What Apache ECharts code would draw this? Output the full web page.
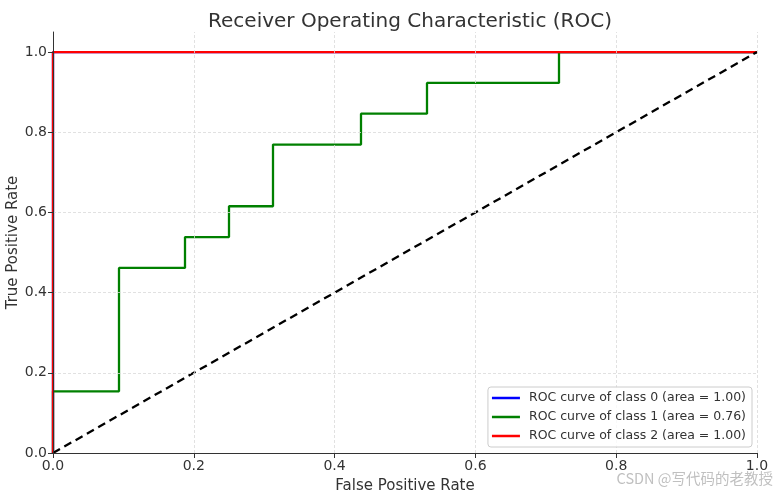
<!DOCTYPE html>
<html>
<head>
<meta charset="utf-8">
<script src="https://cdn.jsdelivr.net/npm/echarts@6/dist/echarts.min.js"></script>
<style>html,body{margin:0;padding:0;background:#fff}#c{width:780px;height:494px}</style>
</head>
<body>
<div id="c"></div>
<script>
const titleText = 'Receiver Operating Characteristic (ROC)';
const xName = 'False Positive Rate';
const yName = 'True Positive Rate';
const tickValues = [0, 0.2, 0.4, 0.6, 0.8, 1.0];

const fprClass0 = [0, 0, 1];
const tprClass0 = [0, 1, 1];
const fprClass1 = [0, 0, 0.09375, 0.09375, 0.1875, 0.1875, 0.25, 0.25, 0.3125, 0.3125, 0.4375, 0.4375, 0.53125, 0.53125, 0.71875, 0.71875, 1];
const tprClass1 = [0, 0.1538, 0.1538, 0.4615, 0.4615, 0.5385, 0.5385, 0.6154, 0.6154, 0.7692, 0.7692, 0.8462, 0.8462, 0.9231, 0.9231, 1, 1];
const fprClass2 = [0, 0, 1];
const tprClass2 = [0, 1, 1];
const diagX = [0, 1];
const diagY = [0, 1];
const seriesNames = ['ROC curve of class 0 (area = 1.00)', 'ROC curve of class 1 (area = 0.76)', 'ROC curve of class 2 (area = 1.00)'];
const seriesColors = ['#0000ff', '#008000', '#ff0000'];

const zip = (a, b) => a.map((v, i) => [v, b[i]]);
const font = 'DejaVu Sans';

const gridLines = tickValues.filter(v => v > 0 && v < 1).map(v => ({ yAxis: v }))
  .concat(tickValues.filter(v => v > 0).map(v => ({ xAxis: v })));

const chart = echarts.init(document.getElementById('c'));
chart.setOption({
  animation: false,
  backgroundColor: '#fff',
  title: {
    text: titleText, left: 405, top: 7, textAlign: 'center',
    textStyle: { fontFamily: font, fontSize: 20, fontWeight: 'normal', color: '#333' }
  },
  grid: { left: 53, right: 23, top: 32, bottom: 41, containLabel: false, outerBoundsMode: 'none' },
  xAxis: {
    type: 'value', min: 0, max: 1, interval: 0.2, zlevel: 1,
    name: xName, nameLocation: 'middle', nameGap: 26, nameMoveOverlap: false,
    nameTextStyle: { fontFamily: font, fontSize: 15, color: '#333' },
    axisLine: { lineStyle: { color: '#333', width: 1 } },
    axisTick: { show: true, inside: false, length: 5, lineStyle: { color: '#333' } },
    axisLabel: { fontFamily: font, fontSize: 14, color: '#333', margin: 6, formatter: v => v.toFixed(1) },
    splitLine: { show: false }
  },
  yAxis: {
    type: 'value', min: 0, max: 1.05, zlevel: 1,
    name: yName, nameLocation: 'middle', nameGap: 32, nameMoveOverlap: false,
    nameTextStyle: { fontFamily: font, fontSize: 15, color: '#333' },
    axisLine: { show: true, lineStyle: { color: '#333', width: 1 } },
    axisTick: { show: true, inside: false, length: 5, lineStyle: { color: '#333' }, customValues: tickValues },
    axisLabel: { fontFamily: font, fontSize: 14, color: '#333', margin: 6, customValues: tickValues, formatter: v => v.toFixed(1) },
    splitLine: { show: false }
  },
  legend: {
    orient: 'vertical', right: 28, bottom: 47, zlevel: 2,
    data: seriesNames,
    icon: 'rect', itemWidth: 28, itemHeight: 2.5, itemGap: 5,
    padding: [4, 6, 4, 4],
    backgroundColor: 'rgba(255,255,255,0.8)', borderColor: '#ccc', borderWidth: 1, borderRadius: 3,
    textStyle: { fontFamily: font, fontSize: 12.5, color: '#333', lineHeight: 14, padding: [0, 0, 0, 4] }
  },
  graphic: [{
    type: 'text', right: 7, top: 471, silent: true,
    style: { text: 'CSDN @写代码的老教授', fill: '#c0c0c0', font: '14.5px "Noto Sans CJK SC"' }
  }],
  series: [
    {
      type: 'line', name: 'grid', data: [], silent: true, z: 1,
      markLine: { silent: true, symbol: 'none', label: { show: false },
        lineStyle: { color: '#d9d9d9', width: 0.8, type: [3, 2] }, data: gridLines }
    },
    { type: 'line', name: seriesNames[0], data: zip(fprClass0, tprClass0), showSymbol: false, symbol: 'none',
      lineStyle: { color: seriesColors[0], width: 2.3 }, itemStyle: { color: seriesColors[0] }, z: 3 },
    { type: 'line', name: seriesNames[1], data: zip(fprClass1, tprClass1), showSymbol: false, symbol: 'none',
      lineStyle: { color: seriesColors[1], width: 2.3 }, itemStyle: { color: seriesColors[1] }, z: 3 },
    { type: 'line', name: seriesNames[2], data: zip(fprClass2, tprClass2), showSymbol: false, symbol: 'none',
      lineStyle: { color: seriesColors[2], width: 2.3 }, itemStyle: { color: seriesColors[2] }, z: 3 },
    { type: 'line', name: 'diag', data: zip(diagX, diagY), showSymbol: false, symbol: 'none',
      lineStyle: { color: '#000', width: 2.3, type: [8, 5] }, z: 4 }
  ]
});
</script>
</body>
</html>
